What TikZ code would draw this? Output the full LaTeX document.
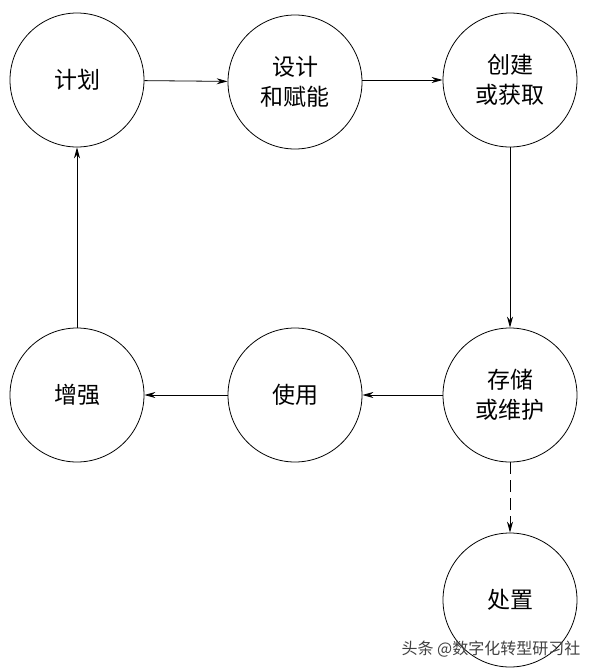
\documentclass[tikz,border=0pt]{standalone}
\usepackage{fontspec}
\setmainfont{Noto Sans CJK SC}
\usepackage{tikz}
\usetikzlibrary{shapes.geometric, arrows.meta}
\tikzstyle{stage} = [circle, minimum size=134pt, inner sep=0pt, align=center, draw=black, line width=0.8pt, font=\fontsize{23}{30}\selectfont]
\tikzstyle{arrow} = [line width=0.8pt, -{Stealth[length=11pt, width=6pt]}]
\tikzstyle{maybe} = [arrow, dash pattern=on 12pt off 6pt]

\begin{document}
\begin{tikzpicture}[node distance=218pt, x=1pt, y=1pt]
\useasboundingbox (0,0) rectangle (589,-670);
\node (plan) [stage] at (77,-80) {计划};
\node (design) [stage, right of=plan, yshift=-2pt] {设计\\和赋能};
\node (create) [stage, right of=design, xshift=-3pt, yshift=2pt] {创建\\或获取};

\node (store) [stage, below of=create, yshift=-97pt] {存储\\或维护};
\node (use) [stage, left of=store, xshift=3pt] {使用};
\node (enhance) [stage, left of=use] {增强};

\node (dispose) [stage, below of=store, yshift=13pt] {处置};

\draw [arrow] (plan) -- (design);
\draw [arrow] (design.east |- plan) -- (create.west |- plan);
\draw [arrow] (create) -- (store);
\draw [arrow] (store) -- (use);
\draw [arrow] (use) -- (enhance);
\draw [arrow] (enhance) -- (plan);
\draw [maybe] (store) -- (dispose);

\node (mark) [font=\fontsize{16}{16}\selectfont, text=black!75] at (491,-649) {头条 @数字化转型研习社};
\end{tikzpicture}
\end{document}
